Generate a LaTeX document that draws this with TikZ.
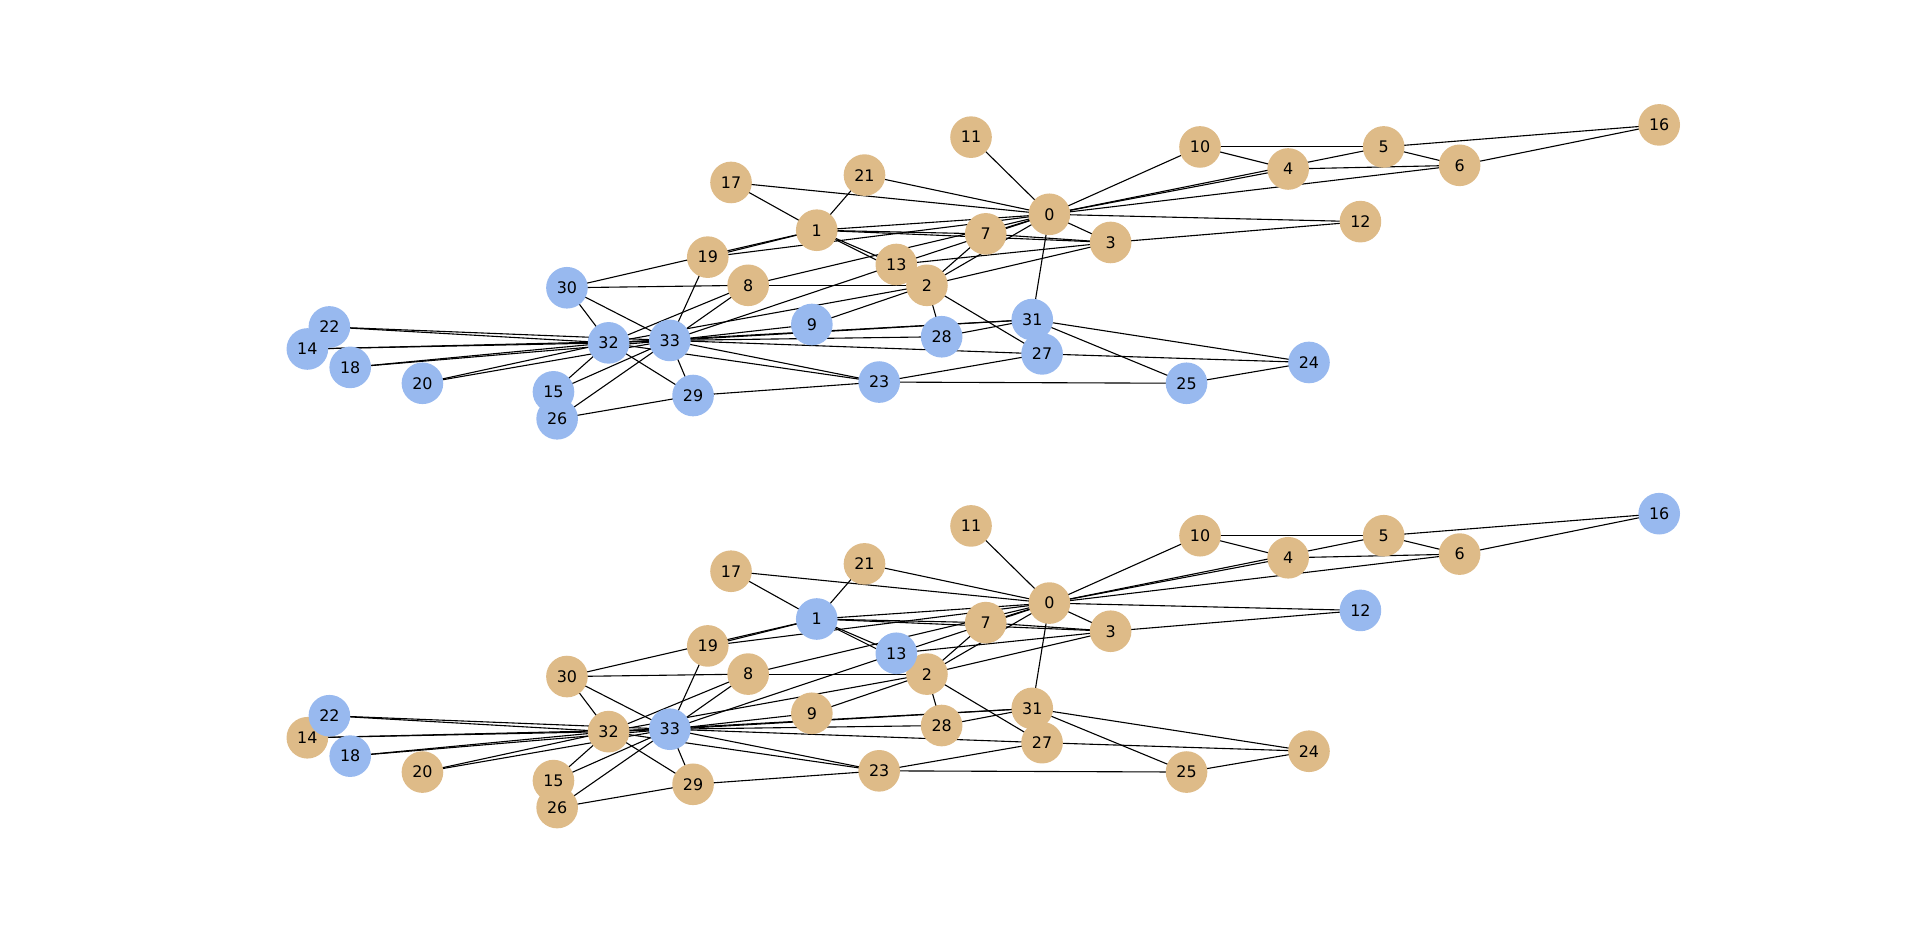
\documentclass[tikz,border=0pt]{standalone}
\usepackage{fontspec}
\setmainfont{DejaVu Sans}
\definecolor{tan}{HTML}{DEBB88}
\definecolor{blu}{HTML}{98B9EF}
\begin{document}
\begin{tikzpicture}[x=1pt,y=-1pt,
  vtx/.style={circle,inner sep=0pt,minimum size=34pt,font=\fontsize{13}{13}\selectfont},
  edge/.style={draw=black,line width=0.9pt}]
\useasboundingbox (0,0) rectangle (1568,756);
\def\pos{0/857/175/tan/tan,1/667/188/tan/blu,2/757/233/tan/tan,3/907/198/tan/tan,4/1052/138/tan/tan,5/1130/120/tan/tan,6/1192/135/tan/tan,7/805/191/tan/tan,8/611/233/tan/tan,9/663/265/blu/tan,10/980/120/tan/tan,11/793/112/tan/tan,12/1111/181/tan/blu,13/732/216/tan/blu,14/251/285/blu/tan,15/452/320/blu/tan,16/1355/102/tan/blu,17/597/149/tan/tan,18/286/300/blu/blu,19/578/210/tan/tan,20/345/313/blu/tan,21/706/143/tan/tan,22/269/267/blu/blu,23/718/312/blu/tan,24/1069/296/blu/tan,25/969/313/blu/tan,26/455/342/blu/tan,27/851/289/blu/tan,28/769/275/blu/tan,29/566/323/blu/tan,30/463/235/blu/tan,31/843/261/blu/tan,32/497/280/blu/tan,33/547/278/blu/blu}
\def\edges{0/1,0/2,0/3,0/4,0/5,0/6,0/7,0/8,0/10,0/11,0/12,0/13,0/17,0/19,0/21,0/31,1/2,1/3,1/7,1/13,1/17,1/19,1/21,1/30,2/3,2/7,2/8,2/9,2/13,2/27,2/28,2/32,3/7,3/12,3/13,4/6,4/10,5/6,5/10,5/16,6/16,8/30,8/32,8/33,9/33,13/33,14/32,14/33,15/32,15/33,18/32,18/33,19/33,20/32,20/33,22/32,22/33,23/25,23/27,23/29,23/32,23/33,24/25,24/27,24/31,25/31,26/29,26/33,27/33,28/31,28/33,29/32,29/33,30/32,30/33,31/32,31/33,32/33}
\foreach \i/\x/\y/\tc/\bc in \pos {
  \coordinate (t\i) at (\x,\y);
  \coordinate (b\i) at (\x,\y+317.5);
}
\foreach \a/\b in \edges {
  \draw[edge] (t\a) -- (t\b);
  \draw[edge] (b\a) -- (b\b);
}
\foreach \i/\x/\y/\tc/\bc in \pos {
  \node[vtx,fill=\tc] (T\i) at (t\i) {\i};
  \node[vtx,fill=\bc] (B\i) at (b\i) {\i};
}
\end{tikzpicture}
\end{document}
